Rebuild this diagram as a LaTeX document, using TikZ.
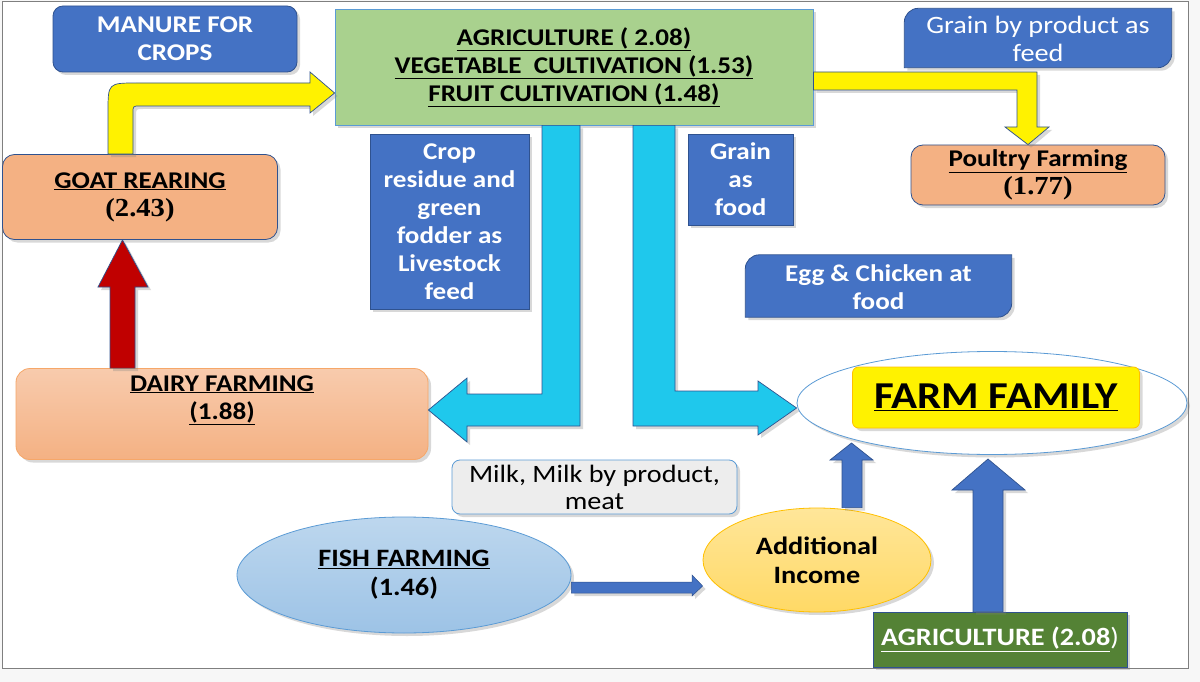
\documentclass[tikz,border=0pt]{standalone}
\usepackage{fontspec}
\setmainfont{Carlito}[FakeStretch=1.13]
\newfontfamily\tnr{Liberation Serif}[FakeStretch=1.1]
\usetikzlibrary{shadows,shapes.geometric,calc}
\definecolor{bluebox}{HTML}{4472C4}
\definecolor{blueedge}{HTML}{2F528F}
\definecolor{salmon}{HTML}{F4B183}
\definecolor{salmonlt}{HTML}{F8CBAD}
\definecolor{greenbox}{HTML}{A9D18E}
\definecolor{darkgreen}{HTML}{548235}
\definecolor{cyanarrow}{HTML}{1FC8EC}
\definecolor{darkred}{HTML}{C00000}
\definecolor{lightblue}{HTML}{BDD7EE}
\definecolor{midblue}{HTML}{9DC3E6}
\definecolor{lightgold}{HTML}{FFE699}
\definecolor{gold}{HTML}{FFD966}
\definecolor{goldedge}{HTML}{FFC000}
\definecolor{milkfill}{HTML}{EDEDED}
\definecolor{milkedge}{HTML}{5B9BD5}
\definecolor{framec}{HTML}{7F7F7F}
\definecolor{bgout}{HTML}{F7F7F7}
% box with rounded top-left and bottom-right corners, drawn around a placeholder node
\newcommand\diagcorners[2]{%
  \draw[#2] ($(#1.north west)+(0,14)$) .. controls ($(#1.north west)+(0,6.3)$) and ($(#1.north west)+(6.3,0)$) .. ($(#1.north west)+(14,0)$)
    -- (#1.north east) -- ($(#1.south east)+(0,-14)$) .. controls ($(#1.south east)+(0,-6.3)$) and ($(#1.south east)+(-6.3,0)$) .. ($(#1.south east)+(-14,0)$)
    -- (#1.south west) -- cycle;}
\begin{document}
\begin{tikzpicture}[x=1pt,y=-1pt,
  shad/.style={drop shadow={opacity=0.3,shadow xshift=3pt,shadow yshift=-3pt}},
  base/.style={align=center,inner sep=0pt,line width=0.8pt,shad},
  bbox/.style={base,draw=blueedge,fill=bluebox,text=white,font=\bfseries\fontsize{24}{28}\selectfont},
  rbbox/.style={bbox,rounded corners=10pt},
  diagfill/.style={line width=0.8pt,draw=blueedge,fill=bluebox,shad},
  holder/.style={inner sep=0pt},
  sbox/.style={base,draw=blueedge,fill=salmon,rounded corners=12pt,font=\bfseries\fontsize{24}{28}\selectfont},
  txt/.style={align=center,inner sep=0pt},
  blockarrow/.style={line width=0.7pt,draw=blueedge,shad}
]
\useasboundingbox (0,0) rectangle (1200,682);
\fill[bgout] (0,0) rectangle (1200,682);
\draw[framec,fill=white,line width=1pt] (2,2) rectangle (1188,668);

% ---------- nodes ----------
\node[rbbox,minimum width=244pt,minimum height=66pt] (manure) at (175,39) {MANURE FOR\\CROPS};
\node[base,draw=milkedge,fill=greenbox,minimum width=478pt,minimum height=116pt,font=\bfseries\fontsize{24}{28}\selectfont] (agri) at (574,67)
  {\underline{AGRICULTURE ( 2.08)}\\\underline{VEGETABLE\ \ CULTIVATION (1.53)}\\\underline{FRUIT CULTIVATION (1.48)}};
\node[holder,minimum width=267pt,minimum height=59pt] (grainby) at (1038,38) {};
\diagcorners{grainby}{diagfill}
\node[txt,text=white,font=\fontsize{25}{28}\selectfont] (grainbytxt) at ($(grainby.center)+(0,1)$) {Grain by product as\\feed};
\node[sbox,minimum width=254pt,minimum height=60pt] (poultry) at (1038,175) {\underline{Poultry Farming}\\{\tnr\bfseries\fontsize{26}{28}\selectfont (1.77)}};
\node[sbox,minimum width=275pt,minimum height=85pt] (goat) at (140,197) {\underline{GOAT REARING}\\{\tnr\bfseries\fontsize{26}{29}\selectfont (2.43)}};
\node[base,draw=salmon!80!orange,top color=salmonlt,bottom color=salmon,rounded corners=14pt,minimum width=412pt,minimum height=91pt] (dairy) at (222,414) {};
\node[txt,font=\bfseries\fontsize{24}{28}\selectfont] (dairytxt) at ($(dairy.center)+(0,-14)$) {\underline{DAIRY FARMING}\\\underline{(1.88)}};
\node[bbox,minimum width=159pt,minimum height=175pt] (crop) at (449.5,221.5) {Crop\\residue and\\green\\fodder as\\Livestock\\feed};
\node[bbox,minimum width=105pt,minimum height=91pt] (grainfood) at (740.5,179.5) {Grain\\as\\food};
\node[holder,minimum width=266pt,minimum height=62pt] (egg) at (878.5,286) {};
\diagcorners{egg}{diagfill}
\node[txt,text=white,font=\bfseries\fontsize{24}{28}\selectfont] (eggtxt) at ($(egg.center)+(0,1)$) {Egg \& Chicken at\\food};
\node[base,ellipse,draw=milkedge,fill=white,minimum width=390pt,minimum height=103pt] (farm) at (992,403) {};
\node[base,draw=goldedge,fill=yellow,rounded corners=6pt,minimum width=287pt,minimum height=61pt,font=\bfseries\fontsize{38}{42}\selectfont,drop shadow={opacity=0}] (farmlbl) at (996,397.5) {\underline{FARM FAMILY}};
\node[base,draw=milkedge,fill=milkfill,rounded corners=8pt,minimum width=285pt,minimum height=54pt,font=\fontsize{25}{27}\selectfont] (milk) at (594.5,487) {Milk, Milk by product,\\meat};
\node[base,ellipse,draw=milkedge,top color=lightblue,bottom color=midblue,minimum width=334pt,minimum height=116pt,font=\bfseries\fontsize{25}{29}\selectfont] (fish) at (404,575) {\underline{FISH FARMING}\\(1.46)};
\node[base,ellipse,draw=goldedge,top color=lightgold,bottom color=gold,minimum width=228pt,minimum height=104pt,font=\bfseries\fontsize{25}{29}\selectfont] (income) at (817,560) {Additional\\Income};
\node[base,draw=blueedge,fill=darkgreen,text=white,minimum width=254pt,minimum height=55pt,font=\bfseries\fontsize{25}{28}\selectfont] (agri2) at (1000,639.5) {\underline{AGRICULTURE (2.08}{\mdseries)}};

% ---------- block arrows ----------
% goat -> agriculture (yellow, bent)
\draw[blockarrow,fill=yellow]
  (108,0 |- goat.north) -- (108,112) .. controls (108,83) and (108,83) .. (137,83)
  -- (310,83) -- (310,72) -- (agri.west |- 0,93) -- (310,113) -- (310,106)
  -- (140,106) .. controls (133,106) and (133,106) .. (133,113) -- (133,0 |- goat.north) -- cycle;
% agriculture -> poultry (yellow, bent)
\draw[blockarrow,fill=yellow]
  (agri.east |- 0,72) -- (1037,72) -- (1037,127) -- (1049,127) -- (1028,0 |- poultry.north)
  -- (1005,127) -- (1017,127) -- (1017,90) -- (agri.east |- 0,90) -- cycle;
% dairy -> goat (red)
\draw[blockarrow,fill=darkred]
  (110,0 |- dairy.north) -- (110,287) -- (98,287) -- (122.5,0 |- goat.south) -- (148,287) -- (135,287) -- (135,0 |- dairy.north) -- cycle;
% agriculture -> dairy (cyan)
\draw[blockarrow,fill=cyanarrow]
  (542,0 |- agri.south) -- (580,0 |- agri.south) -- (580,426) -- (467,426) -- (467,442)
  -- (dairy.east |- 0,410) -- (467,378) -- (467,394) -- (542,394) -- cycle;
% agriculture -> farm family (cyan)
\draw[blockarrow,fill=cyanarrow]
  (633,0 |- agri.south) -- (675,0 |- agri.south) -- (675,391) -- (758,391) -- (758,381)
  -- (farm.west |- 0,408) -- (758,435) -- (758,426) -- (633,426) -- cycle;
% fish -> income
\draw[blockarrow,fill=bluebox,line width=0.5pt]
  (fish.east |- 0,582) -- (692,582) -- (692,575) -- (income.west |- 0,586) -- (692,596) -- (692,593) -- (fish.east |- 0,593) -- cycle;
% income -> farm family
\draw[blockarrow,fill=bluebox]
  (842,0 |- income.north) -- (842,460) -- (830,460) -- (851.5,443) -- (873,460) -- (862,460) -- (862,0 |- income.north) -- cycle;
% agriculture (bottom) -> farm family
\draw[blockarrow,fill=bluebox]
  (973,0 |- agri2.north) -- (973,490) -- (952,490) -- (988,459) -- (1025,490) -- (1003,490) -- (1003,0 |- agri2.north) -- cycle;
\end{tikzpicture}
\end{document}
